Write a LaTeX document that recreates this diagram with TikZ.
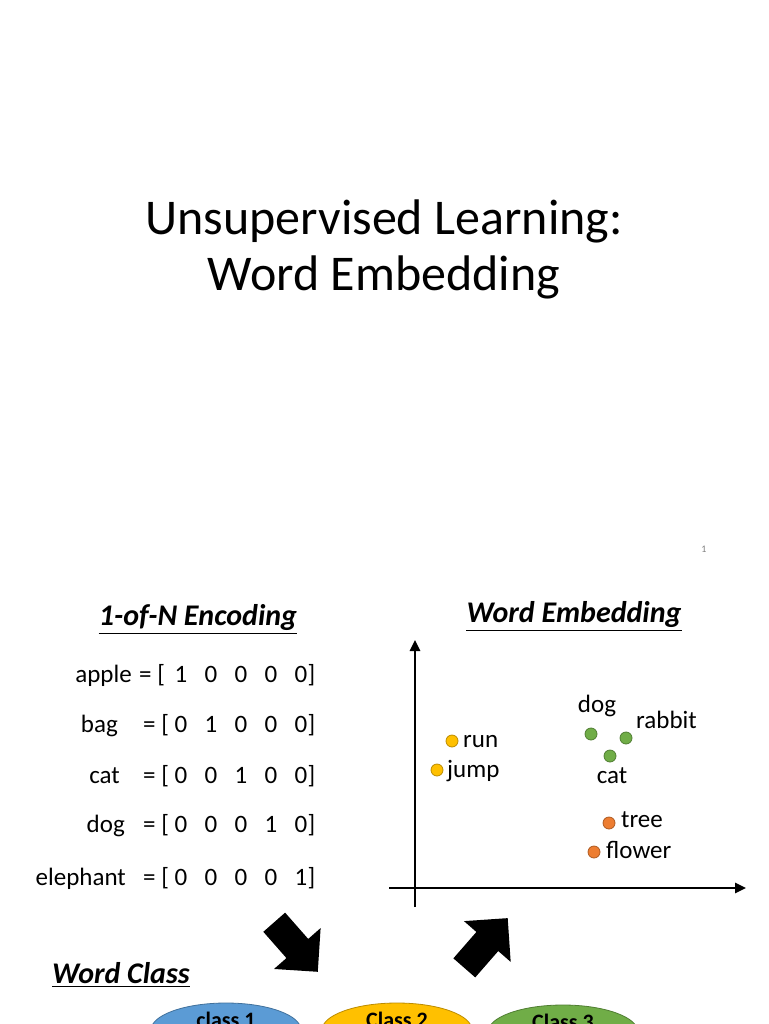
\documentclass[tikz,border=0pt]{standalone}
\usepackage{fontspec}
\setmainfont{Carlito}
\usetikzlibrary{arrows.meta,positioning,shapes.geometric}
\definecolor{wyellow}{HTML}{FFC000}
\definecolor{wyellowd}{HTML}{BC8C00}
\definecolor{wgreen}{HTML}{70AD47}
\definecolor{wgreend}{HTML}{507E32}
\definecolor{worange}{HTML}{ED7D31}
\definecolor{woranged}{HTML}{AE5A21}
\definecolor{wblue}{HTML}{5B9BD5}
\definecolor{wblued}{HTML}{41719C}
\tikzset{
  title/.style={font=\fontsize{50}{55}\selectfont, inner sep=0pt},
  heading/.style={font=\fontsize{30}{36}\selectfont\bfseries\itshape, inner sep=0pt},
  txt/.style={font=\fontsize{25}{30}\selectfont, inner sep=0pt},
  uline/.style={line width=1.5pt},
  axis/.style={line width=2.5pt, -{Triangle[length=11pt,width=10pt]}},
  dot/.style={circle, minimum size=12pt, inner sep=0pt, line width=0.8pt},
  classbox/.style={ellipse, minimum width=150pt, minimum height=54pt, line width=0.8pt},
  classlbl/.style={font=\fontsize{22}{26}\selectfont\bfseries, inner sep=0pt},
  blockarrow/.pic={\fill (-33,-14.5) -- (2,-14.5) -- (2,-31) -- (33,0)
    -- (2,31) -- (2,14.5) -- (-33,14.5) -- cycle;}
}
\begin{document}
\begin{tikzpicture}[x=1pt, y=-1pt]
    % page area
    \clip (0,0) rectangle (768,1024);
    \fill[white] (0,0) rectangle (768,1024);

    % title
    \node[title, anchor=base] (title1) at (384,235) {Unsupervised Learning:};
    \node[title, anchor=base] (title2) at (384,290) {Word Embedding};
    \node[font=\fontsize{10}{12}\selectfont, text=gray, inner sep=0pt] (pageno) at (704,549) {1};

    % 1-of-N encoding
    \node[heading, anchor=base] (enc) at (198,625) {1-of-N Encoding};
    \draw[uline] ([yshift=-3pt]enc.south west) -- ([yshift=-3pt]enc.south east);
    \foreach \w/\x/\e/\y/\k in {apple/132/139/682/1, bag/118/143/732/2, cat/120/143/783/3,
                                dog/125/143/832/4, elephant/126/143/885/5} {
        \node[txt, anchor=base east] (w\k) at (\x,\y) {\w};
        \node[txt, anchor=base west] (eq\k) at (\e,\y) {= [};
        \foreach \j in {1,...,5} {
            \pgfmathtruncatemacro{\bit}{\j==\k ? 1 : 0}
            \node[txt, anchor=base] (d\k-\j) at (151+30*\j,\y) {\bit};
        }
        \node[txt, anchor=base west] (rb\k) at (d\k-5.base east) {]};
    }

    % word embedding
    \node[heading, anchor=base] (emb) at (574,622) {Word Embedding};
    \draw[uline] ([yshift=-3pt]emb.south west) -- ([yshift=-3pt]emb.south east);
    \coordinate (org) at (415,888);
    \coordinate (ytop) at (415,640);
    \coordinate (ybot) at (415,907);
    \coordinate (xleft) at (389,888);
    \coordinate (xright) at (746,888);
    \draw[axis, -] (ybot) -- (org);
    \draw[axis] (org) -- (ytop);
    \draw[axis] (xleft) -- (xright);

    \node[dot, fill=wyellow, draw=wyellowd] (run) at (452,741) {};
    \node[dot, fill=wyellow, draw=wyellowd] (jump) at (437,770) {};
    \node[dot, fill=wgreen, draw=wgreend] (dog) at (591,734) {};
    \node[dot, fill=wgreen, draw=wgreend] (rabbit) at (626,738) {};
    \node[dot, fill=wgreen, draw=wgreend] (cat) at (610,756) {};
    \node[dot, fill=worange, draw=woranged] (tree) at (609,823) {};
    \node[dot, fill=worange, draw=woranged] (flower) at (594,852) {};

    \node[txt, anchor=base west] (runl) at (463,747) {run};
    \node[txt, anchor=base west] (jumpl) at (447,777) {jump};
    \node[txt, anchor=base] (dogl) at (597,712) {dog};
    \node[txt, anchor=base west] (rabbitl) at (636,728) {rabbit};
    \node[txt, anchor=base] (catl) at (612,783) {cat};
    \node[txt, anchor=base west] (treel) at (621,827) {tree};
    \node[txt, anchor=base west] (flowerl) at (606,858) {flower};

    % block arrows
    \pic[rotate=-48.7] (down) at (296,947) {blockarrow};
    \pic[rotate=48.9] (up) at (486,943) {blockarrow};

    % word class
    \node[heading, anchor=base west] (cls) at (52,983) {Word Class};
    \draw[uline] ([yshift=-3pt]cls.south west) -- ([yshift=-3pt]cls.south east);
    \node[classbox, fill=wblue, draw=wblued] (c1) at (226,1030) {};
    \node[classbox, fill=wyellow, draw=wyellowd] (c2) at (397,1030) {};
    \node[classbox, fill=wgreen, draw=wgreend] (c3) at (563,1032) {};
    \node[classlbl, anchor=base] (c1l) at ([yshift=3pt]c1.center) {class 1};
    \node[classlbl, anchor=base] (c2l) at ([yshift=3pt]c2.center) {Class 2};
    \node[classlbl, anchor=base] (c3l) at ([yshift=3pt]c3.center) {Class 3};
\end{tikzpicture}
\end{document}
